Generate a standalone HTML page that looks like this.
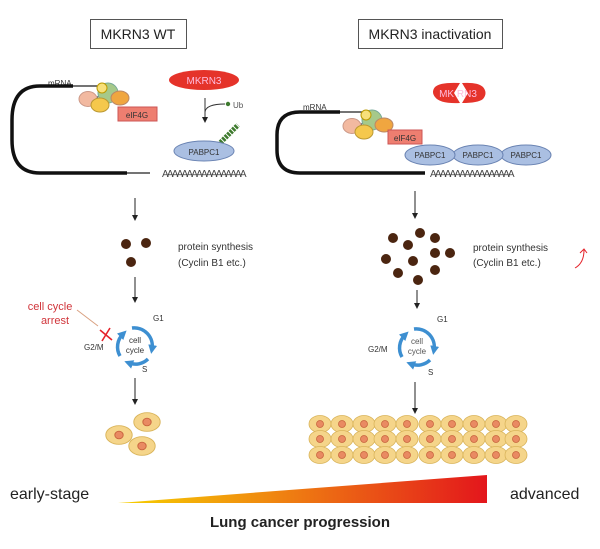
<!DOCTYPE html>
<html><head><style>
html,body{margin:0;padding:0;background:#fff;}
svg{display:block;font-family:"Liberation Sans",Arial,sans-serif;}
</style></head><body>
<svg width="600" height="549" viewBox="0 0 600 549" xmlns="http://www.w3.org/2000/svg">
<defs>
<marker id="ah" markerUnits="userSpaceOnUse" markerWidth="6" markerHeight="6" refX="5" refY="3" orient="auto"><path d="M0,0 L6,3 L0,6 z" fill="#222"/></marker>
<marker id="bh" markerUnits="userSpaceOnUse" markerWidth="9" markerHeight="9" refX="4" refY="4.5" orient="auto"><path d="M0,0 L9,4.5 L0,9 z" fill="#3d8fd1"/></marker>
<linearGradient id="gr" x1="0" x2="1" y1="0" y2="0"><stop offset="0" stop-color="#f6d000"/><stop offset="0.4" stop-color="#f08a10"/><stop offset="1" stop-color="#e3161c"/></linearGradient>
<g id="cx">
<path d="M-12,6 L-4,-4" stroke="#333" stroke-width="1"/>
<ellipse cx="-20" cy="6" rx="9" ry="7.5" fill="#f2b9a0" stroke="#c98"/>
<ellipse cx="0" cy="0" rx="10" ry="10" fill="#a6c98a" stroke="#7a9"/>
<circle cx="-6" cy="-5" r="5" fill="#f7e07a" stroke="#b90"/>
<ellipse cx="12" cy="5" rx="9" ry="7" fill="#f0a640" stroke="#b86"/>
<ellipse cx="-8" cy="12" rx="9" ry="7" fill="#f5c84c" stroke="#b93"/>
</g>
<g id="cell"><ellipse cx="0" cy="0" rx="11" ry="8.5" fill="#f5d58a" stroke="#d9b45a" stroke-width="0.8"/><circle cx="0" cy="0" r="3.5" fill="#e98a62" stroke="#c8643e" stroke-width="0.8"/></g>
<g id="cyc" fill="none" stroke="#3d8fd1" stroke-width="3.5">
<path d="M-3,-18 A18,18 0 0 1 17,3" marker-end="url(#bh)"/>
<path d="M13,13 A18,18 0 0 1 -6,17" marker-end="url(#bh)"/>
<path d="M-15,10 A18,18 0 0 1 -12,-12" marker-end="url(#bh)"/>
</g>
</defs>

<!-- LEFT -->
<rect x="90.5" y="19.5" width="96" height="29" fill="#fff" stroke="#555"/>
<text x="138" y="39" font-size="14" text-anchor="middle" fill="#222">MKRN3 WT</text>
<text x="48" y="86" font-size="8" fill="#333">mRNA</text>
<path d="M73,86 L40,86 Q12,86 12,120 L12,140 Q12,173 40,173 L127,173" fill="none" stroke="#111" stroke-width="3.5"/>
<path d="M73,86 L100,86 M127,173 L150,173" stroke="#222" stroke-width="1.2"/>
<text x="162" y="177" font-size="10" fill="#444" letter-spacing="-1.8">AAAAAAAAAAAAAAAAA</text>
<use href="#cx" x="108" y="93"/>
<rect x="118" y="107" width="39" height="14" fill="#ee7e70" stroke="#c55"/>
<text x="137" y="118" font-size="8" text-anchor="middle" fill="#333">eIF4G</text>
<ellipse cx="204" cy="80" rx="35" ry="10" fill="#e5332a"/>
<text x="204" y="84" font-size="10" text-anchor="middle" fill="#fbd">MKRN3</text>
<path d="M205,98 L205,122" stroke="#333" stroke-width="1" marker-end="url(#ah)"/>
<path d="M205,112 Q206,104 225,104" fill="none" stroke="#333" stroke-width="1"/>
<circle cx="228" cy="104" r="2.2" fill="#3e7a2e"/>
<text x="233" y="108" font-size="8" fill="#555">Ub</text>
<path d="M218,145 L238,125" stroke="#3e7a2e" stroke-width="5" stroke-dasharray="2.5,1"/>
<ellipse cx="204" cy="151" rx="30" ry="10" fill="#aabfe2" stroke="#6b84b3"/>
<text x="204" y="155" font-size="8" text-anchor="middle" fill="#333">PABPC1</text>

<path d="M135,198 L135,220" stroke="#222" stroke-width="1" marker-end="url(#ah)"/>
<circle cx="126" cy="244" r="5" fill="#4b2510"/><circle cx="146" cy="243" r="5" fill="#4b2510"/><circle cx="131" cy="262" r="5" fill="#4b2510"/>
<text x="178" y="250" font-size="10" fill="#333">protein synthesis</text>
<text x="178" y="266" font-size="10" fill="#333">(Cyclin B1 etc.)</text>
<path d="M135,277 L135,302" stroke="#222" stroke-width="1" marker-end="url(#ah)"/>
<use href="#cyc" x="135" y="346"/>
<text x="135" y="343" font-size="8" text-anchor="middle" fill="#333">cell</text>
<text x="135" y="353" font-size="8" text-anchor="middle" fill="#333">cycle</text>
<text x="153" y="321" font-size="8" fill="#333">G1</text>
<text x="84" y="350" font-size="8" fill="#333">G2/M</text>
<text x="142" y="372" font-size="8" fill="#333">S</text>
<text x="50" y="310" font-size="11" text-anchor="middle" fill="#d0343a">cell cycle</text>
<text x="55" y="324" font-size="11" text-anchor="middle" fill="#d0343a">arrest</text>
<path d="M77,310 L98,326" stroke="#d9a080" stroke-width="1"/>
<path d="M100,330 L112,340 M102,341 L110,328" stroke="#e5222a" stroke-width="1.6"/>
<path d="M135,378 L135,404" stroke="#222" stroke-width="1" marker-end="url(#ah)"/>
<g transform="translate(119,435) scale(1.2,1.1)"><use href="#cell"/></g>
<g transform="translate(147,422) scale(1.2,1.1)"><use href="#cell"/></g>
<g transform="translate(142,446) scale(1.2,1.1)"><use href="#cell"/></g>

<!-- RIGHT -->
<rect x="358.5" y="19.5" width="144" height="29" fill="#fff" stroke="#555"/>
<text x="430" y="39" font-size="14" text-anchor="middle" fill="#222">MKRN3 inactivation</text>
<path d="M435,87 Q440,82 460,83 L454,93 L460,103 Q440,104 435,97 Q431,92 435,87z" fill="#e5332a"/>
<path d="M462,83 Q478,82 483,87 Q488,93 483,99 Q478,103 462,103 L468,93 z" fill="#e5332a"/>
<text x="458" y="97" font-size="10" text-anchor="middle" fill="#fbd">MK   RN3</text>
<text x="303" y="110" font-size="8" fill="#333">mRNA</text>
<path d="M340,112 L300,112 Q277,112 277,135 L277,150 Q277,173 300,173 L425,173" fill="none" stroke="#111" stroke-width="3.5"/>
<path d="M340,112 L370,112" stroke="#222" stroke-width="1.2"/>
<text x="430" y="177" font-size="10" fill="#444" letter-spacing="-1.8">AAAAAAAAAAAAAAAAA</text>
<use href="#cx" x="372" y="120"/>
<rect x="388" y="130" width="34" height="14" fill="#ee7e70" stroke="#c55"/>
<text x="405" y="141" font-size="8" text-anchor="middle" fill="#333">eIF4G</text>
<ellipse cx="526" cy="155" rx="25" ry="10" fill="#aabfe2" stroke="#6b84b3"/>
<ellipse cx="478" cy="155" rx="25" ry="10" fill="#aabfe2" stroke="#6b84b3"/>
<ellipse cx="430" cy="155" rx="25" ry="10" fill="#aabfe2" stroke="#6b84b3"/>
<text x="430" y="158" font-size="8" text-anchor="middle" fill="#333">PABPC1</text>
<text x="478" y="158" font-size="8" text-anchor="middle" fill="#333">PABPC1</text>
<text x="526" y="158" font-size="8" text-anchor="middle" fill="#333">PABPC1</text>

<path d="M415,191 L415,218" stroke="#222" stroke-width="1" marker-end="url(#ah)"/>
<g fill="#4b2510">
<circle cx="420" cy="233" r="5"/><circle cx="393" cy="238" r="5"/><circle cx="435" cy="238" r="5"/>
<circle cx="408" cy="245" r="5"/><circle cx="435" cy="253" r="5"/><circle cx="450" cy="253" r="5"/>
<circle cx="386" cy="259" r="5"/><circle cx="413" cy="261" r="5"/><circle cx="435" cy="270" r="5"/>
<circle cx="398" cy="273" r="5"/><circle cx="418" cy="280" r="5"/>
</g>
<text x="473" y="251" font-size="10" fill="#333">protein synthesis</text>
<text x="473" y="266" font-size="10" fill="#333">(Cyclin B1 etc.)</text>
<path d="M575,268 Q584,263 584,250 M580,253 L584,249 L587,253" fill="none" stroke="#e5222a" stroke-width="1"/>
<path d="M417,290 L417,308" stroke="#222" stroke-width="1" marker-end="url(#ah)"/>
<use href="#cyc" x="417" y="347"/>
<text x="417" y="344" font-size="8" text-anchor="middle" fill="#555">cell</text>
<text x="417" y="354" font-size="8" text-anchor="middle" fill="#555">cycle</text>
<text x="437" y="322" font-size="8" fill="#333">G1</text>
<text x="368" y="352" font-size="8" fill="#333">G2/M</text>
<text x="428" y="375" font-size="8" fill="#333">S</text>
<path d="M415,382 L415,413" stroke="#222" stroke-width="1" marker-end="url(#ah)"/>
<g>
<use href="#cell" x="320" y="424"/><use href="#cell" x="342" y="424"/><use href="#cell" x="364" y="424"/><use href="#cell" x="385" y="424"/><use href="#cell" x="407" y="424"/><use href="#cell" x="430" y="424"/><use href="#cell" x="452" y="424"/><use href="#cell" x="474" y="424"/><use href="#cell" x="496" y="424"/><use href="#cell" x="516" y="424"/>
<use href="#cell" x="320" y="439"/><use href="#cell" x="342" y="439"/><use href="#cell" x="364" y="439"/><use href="#cell" x="385" y="439"/><use href="#cell" x="407" y="439"/><use href="#cell" x="430" y="439"/><use href="#cell" x="452" y="439"/><use href="#cell" x="474" y="439"/><use href="#cell" x="496" y="439"/><use href="#cell" x="516" y="439"/>
<use href="#cell" x="320" y="455"/><use href="#cell" x="342" y="455"/><use href="#cell" x="364" y="455"/><use href="#cell" x="385" y="455"/><use href="#cell" x="407" y="455"/><use href="#cell" x="430" y="455"/><use href="#cell" x="452" y="455"/><use href="#cell" x="474" y="455"/><use href="#cell" x="496" y="455"/><use href="#cell" x="516" y="455"/>
</g>

<!-- bottom -->
<path d="M118,503 L487,475 L487,503 z" fill="url(#gr)"/>
<text x="10" y="499" font-size="16" fill="#222">early-stage</text>
<text x="510" y="499" font-size="16" fill="#222">advanced</text>
<text x="300" y="527" font-size="15" font-weight="bold" text-anchor="middle" fill="#222">Lung cancer progression</text>
</svg>
</body></html>
